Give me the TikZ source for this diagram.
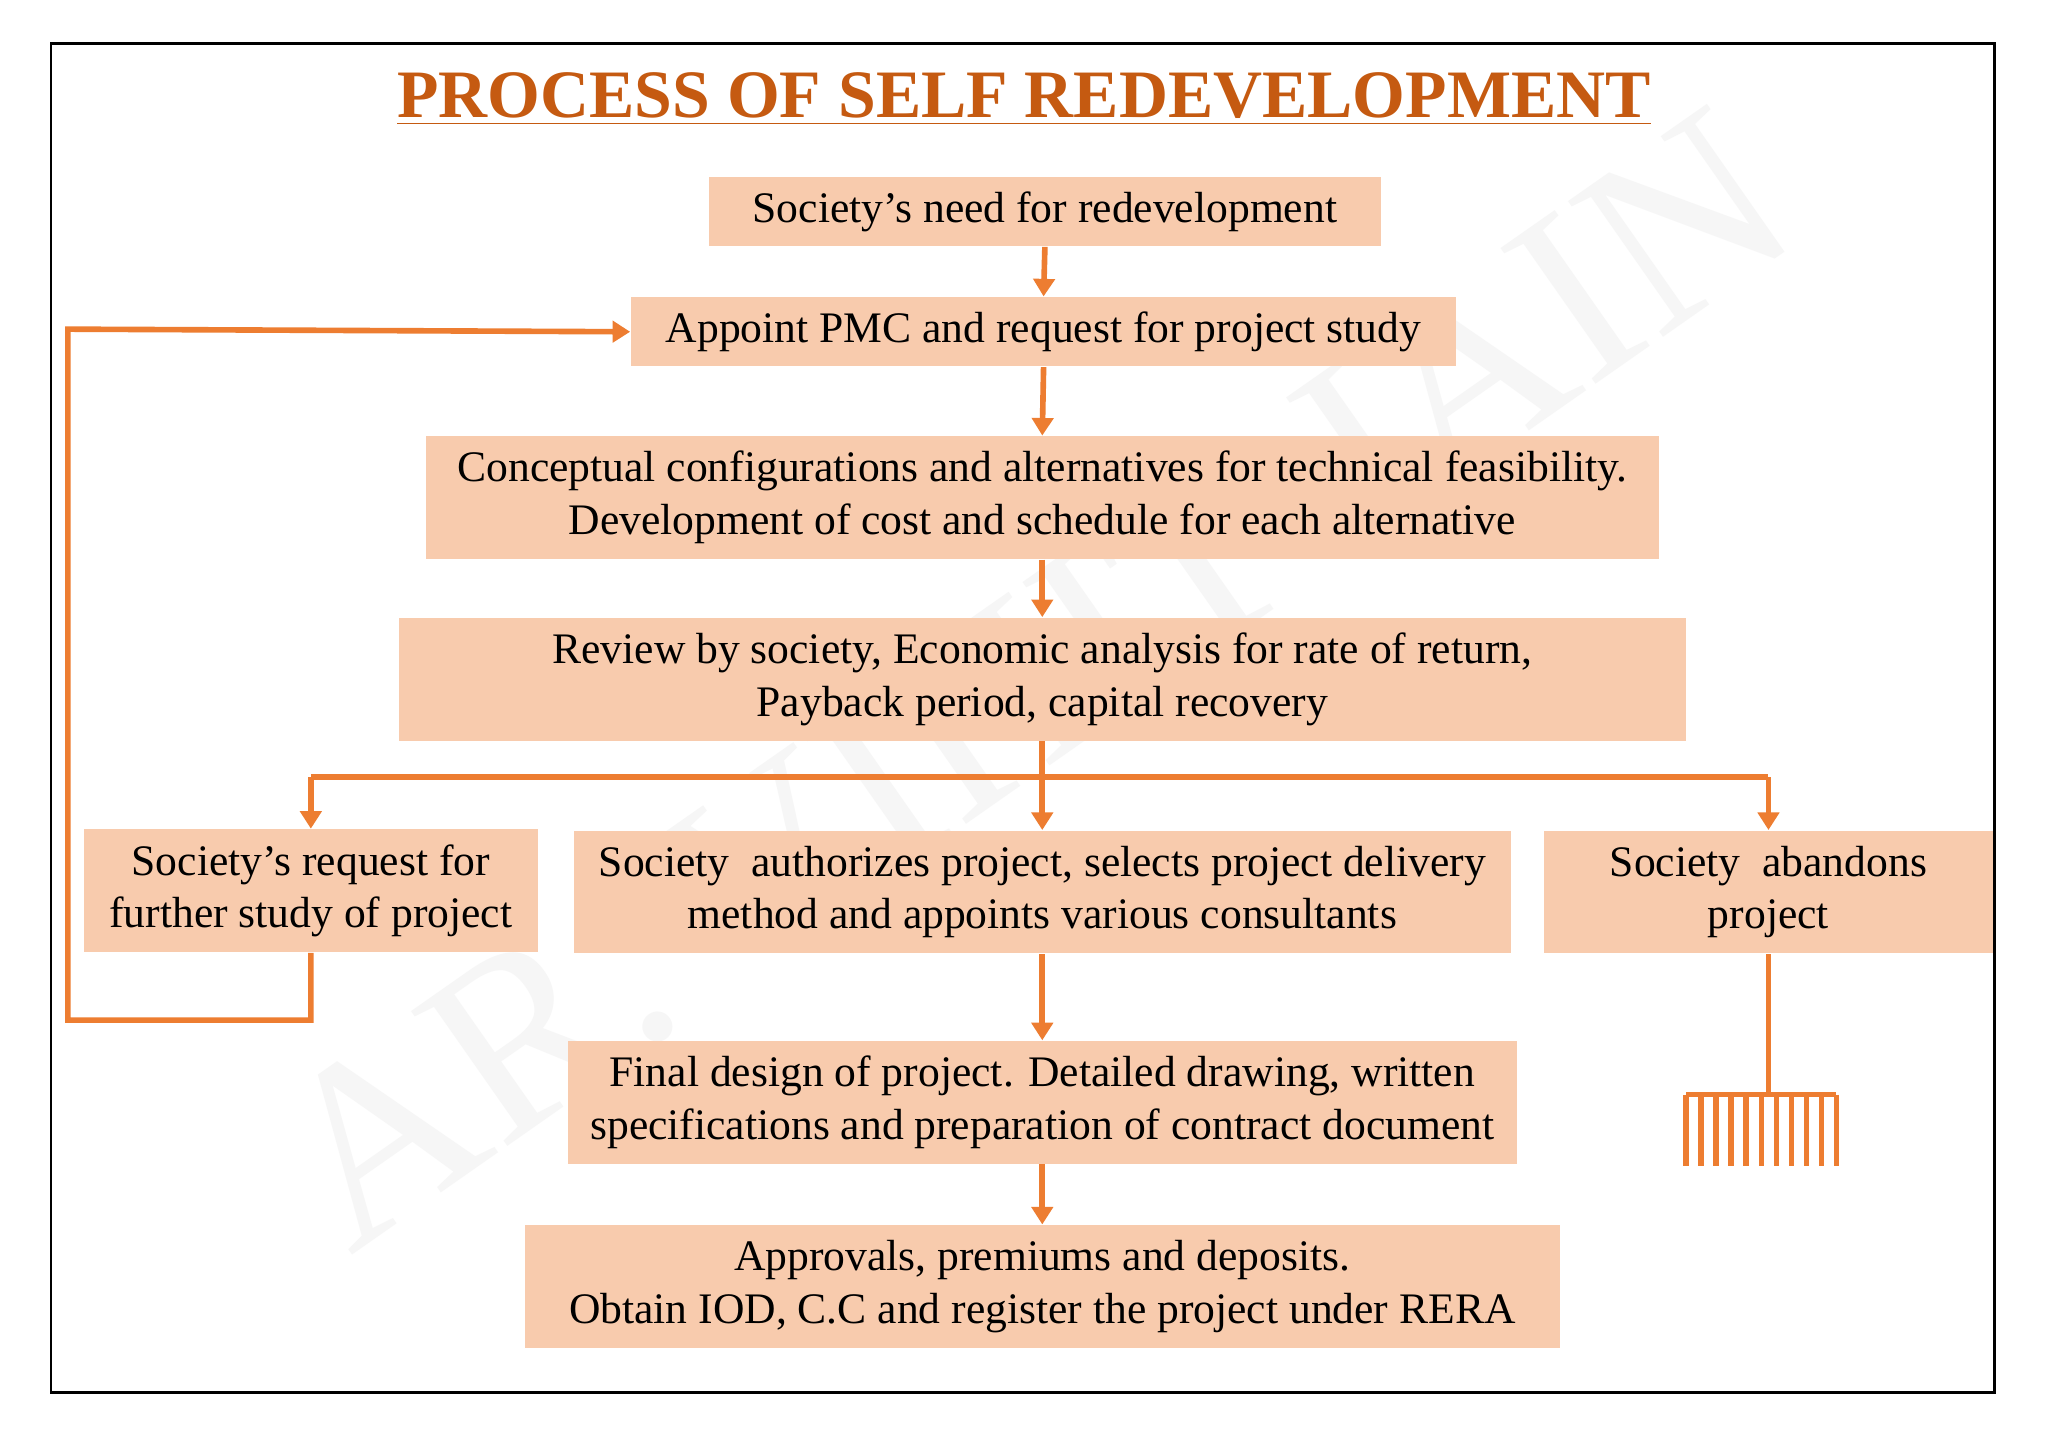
\documentclass[tikz,border=0pt]{standalone}
\usepackage{fontspec}
\setmainfont{Liberation Serif}
\usetikzlibrary{arrows.meta}
\definecolor{boxfill}{HTML}{F8CBAD}
\definecolor{lineor}{HTML}{ED7D31}
\definecolor{titleor}{HTML}{C55A11}
\newdimen\pxu \pxu=0.013061cm
\begin{document}
\begin{tikzpicture}[x=0.013061cm,y=-0.013061cm,
  box/.style={fill=boxfill,draw=none,inner sep=0pt,align=center,font=\fontsize{12.4}{15}\selectfont},
  conn/.style={draw=lineor,line width=1.6pt},
  arr/.style={conn,-{Triangle[length=5pt,width=6pt]}}]
\useasboundingbox (0,0) rectangle (1568,1110);
\fill[white] (0,0) rectangle (1568,1110);
\draw[line width=0.8pt] (39,33) rectangle (1527,1066);
\node[rotate=35,text=gray!7,font=\fontsize{72}{72}\selectfont] (wm) at (790,520) {AR. VIHIT JAIN};
\node[text=titleor,font=\fontsize{19.3}{22}\selectfont\bfseries] (title) at (784,76) {\underline{PROCESS OF SELF REDEVELOPMENT}};
\node[box,minimum width=514\pxu,minimum height=53\pxu] (b1) at (800,162) {Society’s need for redevelopment};
\node[box,minimum width=632\pxu,minimum height=53\pxu] (b2) at (799,254) {Appoint PMC and request for project study};
\node[box,minimum width=944\pxu,minimum height=94\pxu] (b3) at (798,381) {Conceptual configurations and alternatives for technical feasibility.\\Development of cost and schedule for each alternative};
\node[box,minimum width=985\pxu,minimum height=94\pxu] (b4) at (798,520) {Review by society, Economic analysis for rate of return,\\Payback period, capital recovery};
\node[box,minimum width=348\pxu,minimum height=94\pxu] (b5a) at (238,682) {Society’s request for\\further study of project};
\node[box,minimum width=717\pxu,minimum height=94\pxu] (b5b) at (798,683) {Society\ \ authorizes project, selects project delivery\\method and appoints various consultants};
\node[box,minimum width=344\pxu,minimum height=94\pxu] (b5c) at (1354,683) {Society\ \ abandons\\project};
\node[box,minimum width=727\pxu,minimum height=94\pxu] (b6) at (798,844) {Final design of project. Detailed drawing, written\\specifications and preparation of contract document};
\node[box,minimum width=792\pxu,minimum height=94\pxu] (b7) at (798,985) {Approvals, premiums and deposits.\\Obtain IOD, C.C and register the project under RERA};
\draw[arr] (b1.south) -- (b2.north);
\draw[arr] (b2.south) -- (b3.north);
\draw[arr] (b3.south) -- (b4.north);
\coordinate (jl) at (238,595);
\coordinate (jr) at (1354,595);
\coordinate (jm) at (798,595);
\draw[conn] (b4.south) -- (jm);
\draw[conn] (jl) -- (jr);
\draw[arr] (jl) -- (b5a.north);
\draw[arr] (jm) -- (b5b.north);
\draw[arr] (jr) -- (b5c.north);
\draw[arr] (b5b.south) -- (b6.north);
\draw[arr] (b6.south) -- (b7.north);
\draw[arr] (b5a.south) -- (238,781) -- (52,781) -- (52,252) -- (b2.west);
\coordinate (f) at (1354,838);
\draw[conn] (b5c.south) -- (f);
\draw[conn] (1291,838) -- (1406,838);
\foreach \i in {0,...,10} \draw[conn] (1291+\i*11.5,838) -- (1291+\i*11.5,893);
\end{tikzpicture}
\end{document}
